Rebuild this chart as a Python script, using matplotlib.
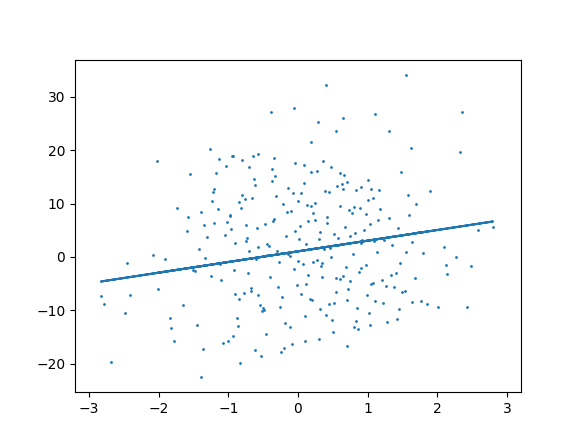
import numpy as np
import matplotlib.pyplot as plt

# (x, y) points (approximate)
points = [
    (-2.02, 18.0), (-0.39, 27.2), (-0.06, 27.9), (-1.27, 20.2), (-1.55, 15.5), (-1.73, 9.2),
    (-1.39, 8.4), (-1.18, 15.7), (-1.21, 12.7), (-0.95, 18.9), (-0.81, 18.2), (-0.64, 18.9),
    (-0.57, 19.3), (1.55, 34.1), (0.40, 32.2), (2.35, 27.2), (1.10, 26.8), (0.29, 25.3),
    (0.64, 26.0), (0.54, 23.6), (1.31, 23.6), (2.33, 19.7), (1.62, 20.4), (0.18, 21.5),
    (-2.69, -19.7), (-1.39, -22.5), (-2.83, -7.3), (-2.79, -8.8), (-2.49, -10.5), (-2.41, -7.1),
    (-2.45, -1.1), (-2.08, 0.4), (-2.01, -6.0), (-1.91, -0.4), (-1.78, -15.7), (-1.82, -13.3),
    (-1.84, -11.4), (2.80, 5.6), (2.58, 5.1), (2.42, -9.4), (2.49, -1.7), (2.01, -9.4),
    (2.27, 0.0), (2.14, -3.2), (2.12, -1.5), (2.10, 1.9), (1.77, -8.2), (1.64, -8.4),
    (0.70, -16.7), (0.10, -15.7), (1.42, -11.6), (1.03, -12.7),
    (-1.05, 4.1), (-0.92, -2.5), (-0.85, 10.3), (-0.78, -6.8), (-0.70, 1.2), (-0.62, 13.5),
    (-0.55, -9.0), (-0.48, 6.2), (-0.40, -3.8), (-0.33, 15.1), (-0.25, 0.8), (-0.18, -12.4),
    (-0.10, 8.7), (-0.02, -5.3), (0.05, 11.9), (0.12, 2.4), (0.20, -8.1), (0.27, 16.2),
    (0.35, -1.2), (0.42, 7.5), (0.50, -14.0), (0.57, 3.6), (0.65, 12.8), (0.72, -6.0),
    (0.80, 9.4), (0.88, -2.9), (0.95, 5.0), (1.02, -10.6),
    (-1.10, -4.4), (-0.98, 7.8), (-0.88, -11.5), (-0.74, 2.9), (-0.66, 11.1), (-0.58, -7.2),
    (-0.44, 0.3), (-0.37, 14.2), (-0.28, -5.6), (-0.21, 9.9), (-0.12, -13.1), (-0.04, 4.8),
    (0.08, 17.3), (0.15, -3.3), (0.24, 6.9), (0.31, -9.7), (0.39, 12.3), (0.46, 1.6),
    (0.55, -6.6), (0.61, 15.8), (0.69, -1.9), (0.77, 8.2), (0.84, -12.0), (0.92, 3.1),
    (1.00, 10.7), (1.08, -4.9), (1.15, 7.0), (1.22, -8.6),
    (-1.30, 3.8), (-1.22, 12.1), (-1.12, -1.4), (-1.02, 6.5), (-0.94, -14.8), (-0.82, 9.1),
    (-0.72, -3.1), (-0.63, 14.7), (-0.51, -10.2), (-0.42, 2.0), (-0.31, 11.4), (-0.23, -7.5),
    (-0.14, 13.0), (-0.06, -2.2), (0.03, 5.8), (0.10, -11.0), (0.18, 9.6), (0.28, -0.6),
    (0.36, 17.9), (0.45, -8.9), (0.52, 4.3), (0.60, -4.1), (0.70, 14.0), (0.79, 0.5),
    (0.86, -13.6), (0.97, 8.0), (1.05, -5.1), (1.13, 1.0),
    (-1.45, -12.8), (-1.35, 6.0), (-1.25, -3.5), (-1.15, 9.0), (-1.00, -15.8), (-0.90, 2.6),
    (-0.80, 11.7), (-0.68, -6.3), (-0.59, 5.4), (-0.50, -9.5), (-0.38, 16.5), (-0.27, -0.9),
    (-0.16, 8.5), (-0.08, -16.3), (0.01, 3.3), (0.09, 13.9), (0.17, -7.8), (0.25, 10.1),
    (0.33, -1.7), (0.41, 6.4), (0.49, -11.8), (0.58, 2.2), (0.66, 15.4), (0.75, -4.6),
    (0.83, 12.5), (0.91, -2.0), (1.01, 14.5), (1.11, -8.3),
    (-0.96, 5.2), (-0.86, -12.9), (-0.76, 10.8), (-0.67, -5.9), (-0.57, 1.8), (-0.46, -14.4),
    (-0.35, 7.2), (-0.26, -9.3), (-0.17, 3.9), (-0.07, 12.0), (0.04, -6.9), (0.13, 9.8),
    (0.22, -1.0), (0.32, 4.6), (0.40, -10.9), (0.48, 0.0), (0.56, 13.3), (0.64, -3.6),
    (0.73, 8.8), (0.81, -13.2), (0.90, 2.7), (0.99, -7.1), (1.07, 11.0), (1.17, 12.6),
    (1.26, -5.5), (1.35, 2.3), (1.45, -9.8), (1.55, 0.9),
    (-1.60, 4.9), (-1.48, -2.7), (-1.36, -17.2), (-1.24, 10.5), (-1.08, -16.1), (-0.97, 7.7),
    (-0.84, -7.9), (-0.73, 3.5), (-0.61, -17.5), (-0.49, -9.9), (-0.36, 6.7), (-0.24, -17.8),
    (-0.11, 0.1), (0.00, 10.4), (0.11, -5.0), (0.21, 8.3), (0.30, -15.3), (0.38, 1.4),
    (0.47, 16.8), (0.54, -3.9), (0.63, 13.7), (0.71, -8.0), (0.82, 4.4), (0.89, 9.2),
    (0.98, -1.5), (1.09, 3.0), (1.20, -4.3), (1.30, 7.3),
    (-0.90, -7.0), (-0.75, 5.9), (-0.60, -0.3), (-0.45, 2.5), (-0.30, 1.1), (-0.15, 0.6),
    (0.00, -0.8), (0.15, 6.8), (0.30, 3.4), (0.45, 12.2), (0.60, 9.5), (0.75, 4.0),
    (0.90, 13.1), (1.05, 12.7), (1.40, -3.0), (1.50, -6.5), (1.60, 7.9), (1.70, 10.0),
    (1.80, 0.7), (1.38, -5.7), (1.48, 15.9), (1.58, 11.6), (1.68, -4.0), (1.18, 8.9),
    (1.28, -12.2), (1.33, -3.4), (1.43, 5.5), (1.53, -6.4), (1.63, 2.8), (1.90, 12.4),
    (-1.65, -9.1), (-1.58, 7.4), (-1.50, -2.4), (-1.42, 1.5), (-1.33, -0.2), (-1.20, 6.3),
    (-1.13, 18.3), (-1.03, 17.0), (-0.93, 19.0), (-0.83, -19.8), (-0.71, 16.9), (-0.53, -18.6),
    (-0.34, 18.6), (-0.20, -17.0), (-0.05, 17.6), (0.07, -1.3), (0.19, 16.0), (0.34, -3.7),
    (0.51, -8.7), (0.68, 5.7), (0.85, -9.6), (1.04, 6.1), (1.24, 3.2), (1.46, -1.1),
    (1.72, 4.7), (1.85, -8.9),
]
slope, intercept = 2.0, 1.05

x = np.array([p[0] for p in points])
y = np.array([p[1] for p in points])

plt.figure(figsize=(5.82, 4.44), dpi=100)
plt.subplots_adjust(left=0.129, right=0.895, top=0.865, bottom=0.117)
plt.scatter(x, y, s=1)
plt.plot(x, slope * x + intercept)
plt.xlim(-3.2, 3.2)
plt.yticks([-20, -10, 0, 10, 20, 30])
plt.savefig('out.png')
